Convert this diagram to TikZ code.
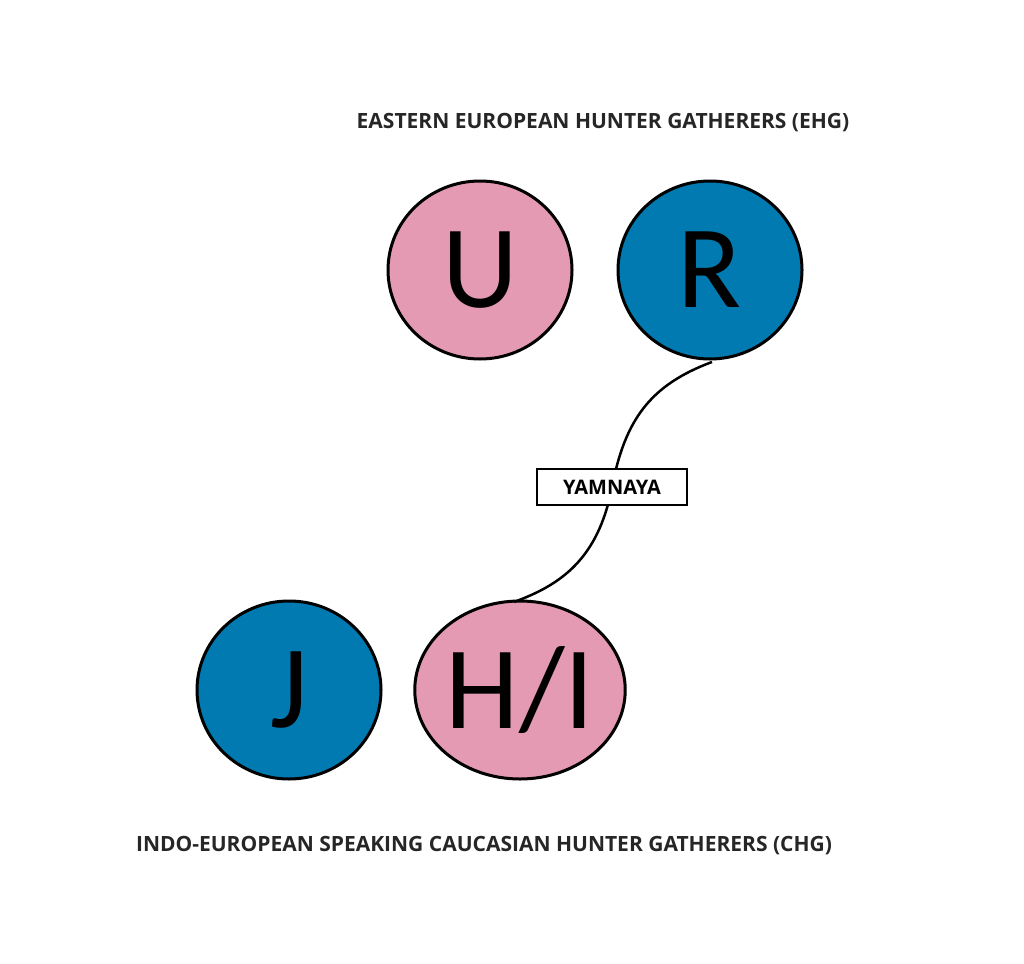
\documentclass[tikz,border=0pt]{standalone}
\usepackage{fontspec}
\setmainfont{Open Sans}
\newfontfamily\letterfont{Carlito}
\definecolor{pinkc}{HTML}{E39AB2}
\definecolor{bluec}{HTML}{007AB0}
\begin{document}
\begin{tikzpicture}[x=1pt,y=-1pt,
  circ/.style={draw=black,line width=3pt,ellipse,minimum width=184pt,minimum height=178pt,inner sep=0pt,font=\letterfont\fontsize{118}{118}\selectfont},
  title/.style={font=\bfseries\fontsize{21}{21}\selectfont,text=black!85},
  lbl/.style={draw=black,line width=2.5pt,fill=white,font=\bfseries\fontsize{20}{20}\selectfont,minimum width=150pt,minimum height=36pt,inner sep=0pt}]
\usetikzlibrary{shapes.geometric}
\useasboundingbox (0,0) rectangle (1024,963);
\node[title] (ehg) at (603,123) {EASTERN EUROPEAN HUNTER GATHERERS (EHG)};
\node[title] (chg) at (484,846) {INDO-EUROPEAN SPEAKING CAUCASIAN HUNTER GATHERERS (CHG)};
\node[circ,fill=pinkc] (U) at (480,270) {U};
\node[circ,fill=bluec] (R) at (710,270) {R};
\node[circ,fill=bluec] (J) at (289,690) {J};
\node[circ,fill=pinkc] (HI) at (520,690) {H/I};
\coordinate (rb) at (712,362);
\coordinate (ht) at (514,602);
\draw[line width=2.5pt] (rb) .. controls (650,385) and (625,420) .. (612,487) .. controls (598,560) and (560,585) .. (ht);
\node[lbl] (Y) at (612,487) {YAMNAYA};
\end{tikzpicture}
\end{document}
